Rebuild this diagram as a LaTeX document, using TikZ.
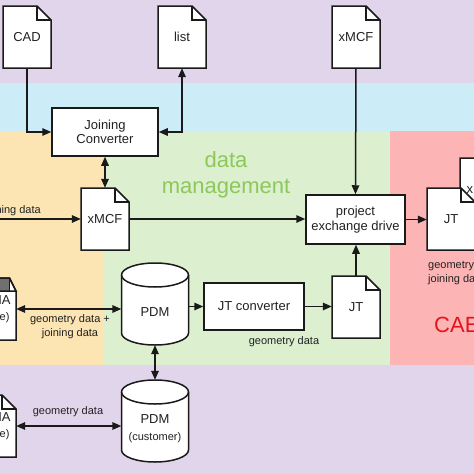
\documentclass[tikz,border=0pt]{standalone}
\usepackage{fontspec}
\setmainfont{Liberation Sans}
\usetikzlibrary{arrows.meta}
\definecolor{bgpurple}{HTML}{E1D5EB}
\definecolor{bgblue}{HTML}{CCEDF8}
\definecolor{bgorange}{HTML}{FCE4B3}
\definecolor{bggreen}{HTML}{DCEFCF}
\definecolor{bgred}{HTML}{FDB4B4}
\definecolor{linec}{HTML}{1A1A1A}
\definecolor{textc}{HTML}{222222}
\definecolor{greentext}{HTML}{8CC85A}
\definecolor{redtext}{HTML}{E3151B}
\definecolor{headgray}{HTML}{707070}
\tikzset{
  conn/.style={draw=linec, line width=1.5pt},
  arr/.style={conn, -{Triangle[length=9pt,width=7.5pt]}},
  darr/.style={conn, {Triangle[length=9pt,width=7.5pt]}-{Triangle[length=9pt,width=7.5pt]}},
  boxnode/.style={draw=linec, fill=white, line width=1.5pt, inner sep=0pt, align=center,
    font=\fontsize{13}{14.5}\selectfont, text=textc},
  outline/.style={draw=linec, fill=white, line width=1.5pt, line join=miter},
  foldline/.style={draw=linec, line width=1.5pt},
  docnode/.style={inner sep=0pt, draw=none, minimum width=48pt, minimum height=62pt, align=center,
    font=\fontsize{13}{16}\selectfont, text=textc},
  cylnode/.style={inner sep=0pt, draw=none, minimum width=67pt, minimum height=82pt},
  txt/.style={inner sep=0pt, align=center, font=\fontsize{13}{17}\selectfont, text=textc},
  lbl/.style={inner sep=0pt, align=center, font=\fontsize{11}{14}\selectfont, text=textc},
}
\newcommand\mydoc[4]{%
  \path[outline] (#2-24,#3-31) -- (#2+10,#3-31) -- (#2+24,#3-17) -- (#2+24,#3+31) -- (#2-24,#3+31) -- cycle;
  \draw[foldline] (#2+10,#3-31) -- (#2+10,#3-17) -- (#2+24,#3-17);
  \node[docnode] (#1) at (#2,#3) {#4};
}
\newcommand\mycyl[3]{%
  \path[outline] (#2-33.5,#3+12) -- (#2-33.5,#3+70)
     arc[start angle=180,end angle=360,x radius=33.5pt,y radius=12pt]
     -- (#2+33.5,#3+12)
     arc[start angle=0,end angle=180,x radius=33.5pt,y radius=12pt] -- cycle;
  \draw[foldline] (#2-33.5,#3+12) arc[start angle=180,end angle=360,x radius=33.5pt,y radius=12pt];
  \node[cylnode] (#1) at (#2,#3+41) {};
}
\begin{document}
\begin{tikzpicture}[x=1pt,y=-1pt]
\useasboundingbox (0,0) rectangle (474,474);
\clip (0,0) rectangle (474,474);
% background bands
\fill[bgpurple] (0,0) rectangle (474,83);
\fill[bgblue] (0,83) rectangle (474,131);
\fill[bgorange] (0,131) rectangle (103,365);
\fill[bggreen] (103,131) rectangle (390,365);
\fill[bgred] (390,131) rectangle (474,365);
\fill[bgpurple] (0,365) rectangle (474,474);

% region labels
\node[inner sep=0pt, align=center, font=\fontsize{22}{25.5}\selectfont, text=greentext] (dmlabel) at (226,175) {data\\management};
\node[inner sep=0pt, anchor=west, font=\fontsize{22}{25}\selectfont, text=redtext] (caelabel) at (434,325) {CAE};

% documents
\mydoc{cad}{27}{37}{CAD}
\mydoc{list}{182}{37}{list}
\mydoc{xmcftop}{356}{37}{xMCF}
\mydoc{xmcf}{105}{219}{xMCF}
\mydoc{xmcfcae}{484}{189}{xMCF}
\mydoc{jt}{451}{219}{JT}
\mydoc{jtlow}{356}{307}{JT}

% upper left document (with grey header)
\path[outline] (-40,278) -- (9.5,278) -- (16,291) -- (16,340) -- (-40,340) -- cycle;
\fill[headgray] (-40,278.6) -- (9.5,278.6) -- (9.5,291) -- (-40,291) -- cycle;
\draw[foldline] (-40,278) -- (9.5,278) -- (16,291) -- (-40,291);
\draw[foldline] (9.5,278) -- (9.5,291);
\node[docnode] (catia1) at (-8,309) {CATIA\\\fontsize{11}{13}\selectfont (home)};
% lower left document
\mydoc{catia2}{-8}{426}{CATIA\\\fontsize{11}{13}\selectfont (home)}

% boxes
\node[boxnode, minimum width=106pt, minimum height=48pt] (jc) at (105,132) {Joining\\Converter};
\node[boxnode, minimum width=99pt, minimum height=49pt] (ped) at (355.5,219.5) {project\\exchange drive};
\node[boxnode, minimum width=100pt, minimum height=47pt] (jtc) at (254,306.5) {JT converter};

% cylinders
\mycyl{pdm}{155}{263}
\node[txt] (pdmtext) at (155,312) {PDM};
\mycyl{pdmc}{155}{380}
\node[txt] (pdmctext) at (155,428.5) {PDM\\\fontsize{11}{13}\selectfont (customer)};

% connectors
\coordinate (leftin) at (-5,219);
\draw[arr] (cad.south) |- (jc.west);
\draw[darr] (jc.east) -| (list.south);
\draw[darr] (jc.south) -- (xmcf.north);
\draw[arr] (leftin) -- (xmcf.west);
\draw[arr] (xmcf.east) -- (xmcf.east -| ped.west);
\draw[arr] (xmcftop.south) -- (ped.north);
\draw[arr] (ped.east) -- (ped.east -| jt.west);
\draw[darr] (catia1.east) -- (catia1.east -| pdm.west);
\draw[arr] (pdm.east |- jtc.west) -- (jtc.west);
\draw[arr] (jtc.east) -- (jtc.east -| jtlow.west);
\draw[arr] (jtlow.north) -- (jtlow.north |- ped.south);
\draw[darr] (pdm.south) -- (pdmc.north);
\draw[darr] (catia2.east) -- (catia2.east -| pdmc.west);

% connector labels
\node[lbl, anchor=east] (lbljoin) at (41,211) {joining data};
\node[lbl] (lblgj) at (70,327) {geometry data +\\joining data};
\node[lbl] (lblgeo) at (68,412) {geometry data};
\node[lbl] (lblgeo2) at (284,342) {geometry data};
\node[lbl, anchor=west, align=left] (lblcae) at (428,272.5) {geometry data +\\joining data};
\end{tikzpicture}
\end{document}
